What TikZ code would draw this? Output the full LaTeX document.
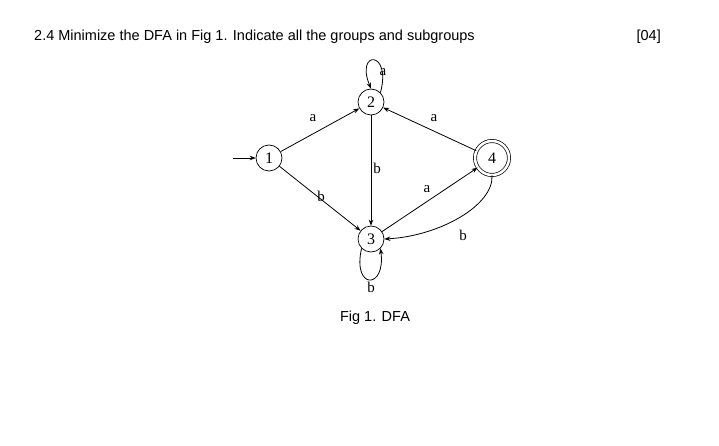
\documentclass[tikz,border=0pt]{standalone}
\usepackage{fontspec}
\setmainfont{Liberation Serif}
\newfontfamily\hfont{Liberation Sans}
\usetikzlibrary{arrows.meta}
\begin{document}
\begin{tikzpicture}[x=1pt,y=-1pt,
  st/.style={circle,draw,minimum size=26pt,inner sep=0pt,line width=0.7pt,font=\fontsize{16}{16}\selectfont},
  acc/.style={st,double,double distance=2.5pt},
  ed/.style={-{Stealth[length=6pt,width=4.5pt]},line width=0.8pt},
  lb/.style={font=\fontsize{15}{15}\selectfont,inner sep=0pt},
  ht/.style={font=\hfont\fontsize{14.5}{16}\selectfont,inner sep=0pt}]
\useasboundingbox (0,0) rectangle (719,446);
\node[ht,anchor=west] (t) at (34,37) {2.4 Minimize the DFA in Fig 1. Indicate all the groups and subgroups};
\node[ht,anchor=east] (m) at (661,37) {[04]};
\node[st] (n1) at (269,158) {1};
\node[st] (n2) at (371,102) {2};
\node[st] (n3) at (371,239) {3};
\node[acc,minimum size=34pt] (n4) at (492,158) {4};
\coordinate (s) at (233,158);
\draw[ed] (s) -- (n1);
\draw[ed] (n1) -- (n2);
\draw[ed] (n1) -- (n3);
\draw[ed] (n2) -- (n3);
\draw[ed] (n4) -- (n2);
\draw[ed] (n3) -- (n4);
\draw[ed] (n4.south) .. controls (494,205) and (440,236) .. (n3.east);
\draw[ed] (n2.north east) .. controls (392,50) and (355,50) .. (n2.north);
\draw[ed] (n3.south west) .. controls (352,290) and (386,290) .. (n3.south east);
\node[lb] (la1) at (313,118) {a};
\node[lb] (lb1) at (321,196) {b};
\node[lb] (lb2) at (377,168) {b};
\node[lb] (la4) at (434,118) {a};
\node[lb] (la3) at (427,189) {a};
\node[lb] (lb4) at (463,235) {b};
\node[lb] (la2) at (383,72) {a};
\node[lb] (lb3) at (371,287) {b};
\node[ht] (cap) at (375,318) {Fig 1. DFA};
\end{tikzpicture}
\end{document}
